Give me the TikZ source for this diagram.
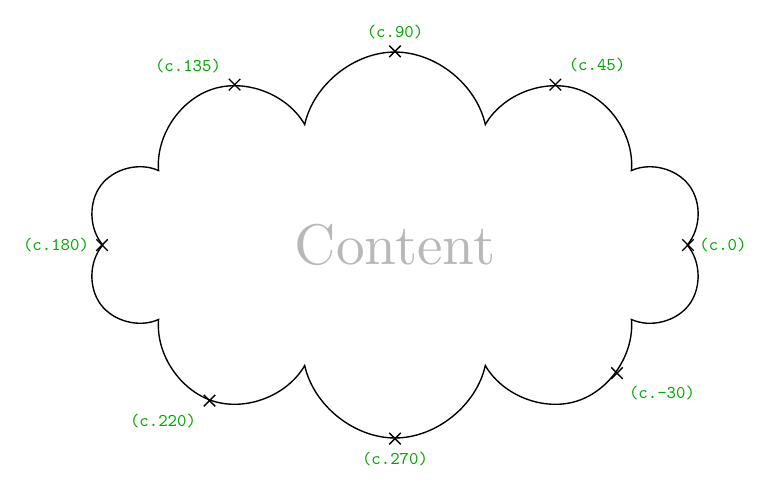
\documentclass[tikz,border=0pt]{standalone}
\usetikzlibrary{shapes.symbols,shapes.misc}
\begin{document}
\begin{tikzpicture}[x=0.4348pt,y=-0.4348pt,
  lbl/.style={text=green!65!black,inner sep=0pt},
  xm/.style={cross out,draw,minimum size=4.4pt,inner sep=0pt,line width=0.6pt}]
\useasboundingbox (0,0) rectangle (772,487);
\node[cloud,draw,line width=0.6pt,cloud puffs=10,cloud puff arc=155,
      minimum width=269pt,minimum height=167.8pt,inner sep=0pt,
      text=black!28] (c) at (395,245) {\scalebox{2.49}{\normalsize Content}};
\foreach \a/\n in {0/a,45/b,90/c,135/d,180/e,220/f,270/g,-30/h}
  \node[xm] (x\n) at (c.\a) {};
\newcommand\lt[1]{\scalebox{0.78}{\normalsize\ttfamily #1}}
\node[lbl] (l0) at (723,245) {\lt{(c.0)}};
\node[lbl] (l45) at (597,65) {\lt{(c.45)}};
\node[lbl] (l90) at (395,32) {\lt{(c.90)}};
\node[lbl] (l135) at (188,66) {\lt{(c.135)}};
\node[lbl] (l180) at (56,245) {\lt{(c.180)}};
\node[lbl] (l220) at (163,421) {\lt{(c.220)}};
\node[lbl] (l270) at (395,459) {\lt{(c.270)}};
\node[lbl] (l330) at (662,393) {\lt{(c.-30)}};
\end{tikzpicture}
\end{document}
